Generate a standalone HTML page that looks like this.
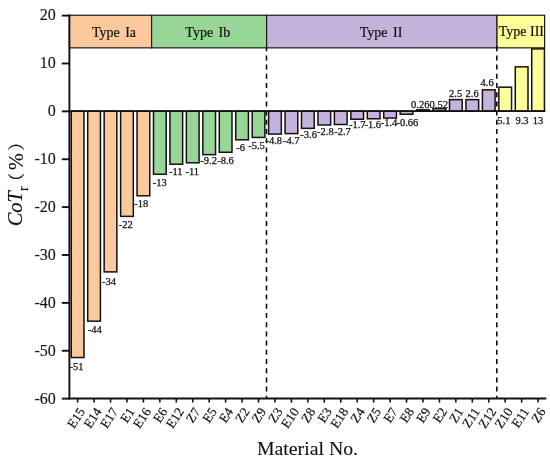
<!DOCTYPE html><html><head><meta charset="utf-8"><title>CoTr chart</title>
<style>html,body{margin:0;padding:0;background:#fff}svg{display:block}text{font-family:"Liberation Serif","Noto Serif CJK SC",serif;fill:#111;stroke:#111;stroke-width:0.12px}.xl{stroke-width:0.18px}.hd{stroke-width:0.2px}.dl{stroke-width:0.25px}</style></head><body>
<svg width="550" height="460" viewBox="0 0 550 460">
<rect width="550" height="460" fill="#fff"/>
<rect x="69.40" y="15.25" width="82.20" height="32.60" fill="#FBC99B" stroke="#1a1a1a" stroke-width="1.2"/>
<rect x="151.60" y="15.25" width="115.00" height="32.60" fill="#98D698" stroke="#1a1a1a" stroke-width="1.2"/>
<rect x="266.60" y="15.25" width="230.40" height="32.60" fill="#C4B3DA" stroke="#1a1a1a" stroke-width="1.2"/>
<rect x="497.00" y="15.25" width="47.60" height="32.60" fill="#FFFF99" stroke="#1a1a1a" stroke-width="1.2"/>
<rect x="71.27" y="111.10" width="12.7" height="246.43" fill="#FBC99B" stroke="#111" stroke-width="1.5"/>
<rect x="87.72" y="111.10" width="12.7" height="210.06" fill="#FBC99B" stroke="#111" stroke-width="1.5"/>
<rect x="104.16" y="111.10" width="12.7" height="160.78" fill="#FBC99B" stroke="#111" stroke-width="1.5"/>
<rect x="120.61" y="111.10" width="12.7" height="105.27" fill="#FBC99B" stroke="#111" stroke-width="1.5"/>
<rect x="137.05" y="111.10" width="12.7" height="84.69" fill="#FBC99B" stroke="#111" stroke-width="1.5"/>
<rect x="153.50" y="111.10" width="12.7" height="63.16" fill="#98D698" stroke="#111" stroke-width="1.5"/>
<rect x="169.94" y="111.10" width="12.7" height="53.11" fill="#98D698" stroke="#111" stroke-width="1.5"/>
<rect x="186.39" y="111.10" width="12.7" height="51.68" fill="#98D698" stroke="#111" stroke-width="1.5"/>
<rect x="202.83" y="111.10" width="12.7" height="43.54" fill="#98D698" stroke="#111" stroke-width="1.5"/>
<rect x="219.28" y="111.10" width="12.7" height="41.15" fill="#98D698" stroke="#111" stroke-width="1.5"/>
<rect x="235.72" y="111.10" width="12.7" height="28.71" fill="#98D698" stroke="#111" stroke-width="1.5"/>
<rect x="252.17" y="111.10" width="12.7" height="26.32" fill="#98D698" stroke="#111" stroke-width="1.5"/>
<rect x="268.61" y="111.10" width="12.7" height="22.97" fill="#C4B3DA" stroke="#111" stroke-width="1.5"/>
<rect x="285.06" y="111.10" width="12.7" height="22.49" fill="#C4B3DA" stroke="#111" stroke-width="1.5"/>
<rect x="301.50" y="111.10" width="12.7" height="17.23" fill="#C4B3DA" stroke="#111" stroke-width="1.5"/>
<rect x="317.95" y="111.10" width="12.7" height="13.88" fill="#C4B3DA" stroke="#111" stroke-width="1.5"/>
<rect x="334.39" y="111.10" width="12.7" height="13.40" fill="#C4B3DA" stroke="#111" stroke-width="1.5"/>
<rect x="350.84" y="111.10" width="12.7" height="8.13" fill="#C4B3DA" stroke="#111" stroke-width="1.5"/>
<rect x="367.28" y="111.10" width="12.7" height="7.66" fill="#C4B3DA" stroke="#111" stroke-width="1.5"/>
<rect x="383.73" y="111.10" width="12.7" height="6.94" fill="#C4B3DA" stroke="#111" stroke-width="1.5"/>
<rect x="400.17" y="111.10" width="12.7" height="3.16" fill="#C4B3DA" stroke="#111" stroke-width="1.5"/>
<rect x="416.62" y="109.86" width="12.7" height="1.24" fill="#C4B3DA" stroke="#111" stroke-width="1.5"/>
<rect x="433.06" y="108.61" width="12.7" height="2.49" fill="#C4B3DA" stroke="#111" stroke-width="1.5"/>
<rect x="449.51" y="99.62" width="12.7" height="11.48" fill="#C4B3DA" stroke="#111" stroke-width="1.5"/>
<rect x="465.95" y="99.62" width="12.7" height="11.48" fill="#C4B3DA" stroke="#111" stroke-width="1.5"/>
<rect x="482.40" y="89.81" width="12.7" height="21.29" fill="#C4B3DA" stroke="#111" stroke-width="1.5"/>
<rect x="498.84" y="87.17" width="12.7" height="23.92" fill="#FFFF99" stroke="#111" stroke-width="1.5"/>
<rect x="515.29" y="66.84" width="12.7" height="44.26" fill="#FFFF99" stroke="#111" stroke-width="1.5"/>
<rect x="531.73" y="48.89" width="12.7" height="62.20" fill="#FFFF99" stroke="#111" stroke-width="1.5"/>
<line x1="266.5" y1="46.2" x2="266.5" y2="398.4" stroke="#000" stroke-width="1.5" stroke-dasharray="5 4.2"/>
<line x1="496.8" y1="46.2" x2="496.8" y2="398.4" stroke="#000" stroke-width="1.5" stroke-dasharray="5 4.2"/>
<line x1="69.4" y1="14.4" x2="69.4" y2="399.4" stroke="#111" stroke-width="1.9"/>
<line x1="68.5" y1="398.55" x2="546.3" y2="398.55" stroke="#111" stroke-width="1.9"/>
<line x1="69.4" y1="111.1" x2="545.3" y2="111.1" stroke="#111" stroke-width="1.8"/>
<line x1="61.8" y1="15.60" x2="69.4" y2="15.60" stroke="#111" stroke-width="1.9"/>
<text x="55.8" y="19.70" font-size="16" text-anchor="end">20</text>
<line x1="61.8" y1="63.48" x2="69.4" y2="63.48" stroke="#111" stroke-width="1.9"/>
<text x="55.8" y="68.38" font-size="16" text-anchor="end">10</text>
<line x1="61.8" y1="111.36" x2="69.4" y2="111.36" stroke="#111" stroke-width="1.9"/>
<text x="55.8" y="116.26" font-size="16" text-anchor="end">0</text>
<line x1="61.8" y1="159.24" x2="69.4" y2="159.24" stroke="#111" stroke-width="1.9"/>
<text x="55.8" y="164.14" font-size="16" text-anchor="end">-10</text>
<line x1="61.8" y1="207.12" x2="69.4" y2="207.12" stroke="#111" stroke-width="1.9"/>
<text x="55.8" y="212.02" font-size="16" text-anchor="end">-20</text>
<line x1="61.8" y1="255.00" x2="69.4" y2="255.00" stroke="#111" stroke-width="1.9"/>
<text x="55.8" y="259.90" font-size="16" text-anchor="end">-30</text>
<line x1="61.8" y1="302.88" x2="69.4" y2="302.88" stroke="#111" stroke-width="1.9"/>
<text x="55.8" y="307.78" font-size="16" text-anchor="end">-40</text>
<line x1="61.8" y1="350.76" x2="69.4" y2="350.76" stroke="#111" stroke-width="1.9"/>
<text x="55.8" y="355.66" font-size="16" text-anchor="end">-50</text>
<line x1="61.8" y1="398.64" x2="69.4" y2="398.64" stroke="#111" stroke-width="1.9"/>
<text x="55.8" y="403.54" font-size="16" text-anchor="end">-60</text>
<line x1="77.62" y1="398.4" x2="77.62" y2="402.6" stroke="#111" stroke-width="1.6"/>
<text transform="translate(85.72,411.3) rotate(-57)" font-size="13.3" text-anchor="end" class="xl">E15</text>
<line x1="94.07" y1="398.4" x2="94.07" y2="402.6" stroke="#111" stroke-width="1.6"/>
<text transform="translate(102.17,411.3) rotate(-57)" font-size="13.3" text-anchor="end" class="xl">E14</text>
<line x1="110.51" y1="398.4" x2="110.51" y2="402.6" stroke="#111" stroke-width="1.6"/>
<text transform="translate(118.61,411.3) rotate(-57)" font-size="13.3" text-anchor="end" class="xl">E17</text>
<line x1="126.96" y1="398.4" x2="126.96" y2="402.6" stroke="#111" stroke-width="1.6"/>
<text transform="translate(135.06,411.3) rotate(-57)" font-size="13.3" text-anchor="end" class="xl">E1</text>
<line x1="143.40" y1="398.4" x2="143.40" y2="402.6" stroke="#111" stroke-width="1.6"/>
<text transform="translate(151.50,411.3) rotate(-57)" font-size="13.3" text-anchor="end" class="xl">E16</text>
<line x1="159.85" y1="398.4" x2="159.85" y2="402.6" stroke="#111" stroke-width="1.6"/>
<text transform="translate(167.95,411.3) rotate(-57)" font-size="13.3" text-anchor="end" class="xl">E6</text>
<line x1="176.29" y1="398.4" x2="176.29" y2="402.6" stroke="#111" stroke-width="1.6"/>
<text transform="translate(184.39,411.3) rotate(-57)" font-size="13.3" text-anchor="end" class="xl">E12</text>
<line x1="192.74" y1="398.4" x2="192.74" y2="402.6" stroke="#111" stroke-width="1.6"/>
<text transform="translate(200.84,411.3) rotate(-57)" font-size="13.3" text-anchor="end" class="xl">Z7</text>
<line x1="209.18" y1="398.4" x2="209.18" y2="402.6" stroke="#111" stroke-width="1.6"/>
<text transform="translate(217.28,411.3) rotate(-57)" font-size="13.3" text-anchor="end" class="xl">E5</text>
<line x1="225.63" y1="398.4" x2="225.63" y2="402.6" stroke="#111" stroke-width="1.6"/>
<text transform="translate(233.73,411.3) rotate(-57)" font-size="13.3" text-anchor="end" class="xl">E4</text>
<line x1="242.07" y1="398.4" x2="242.07" y2="402.6" stroke="#111" stroke-width="1.6"/>
<text transform="translate(250.17,411.3) rotate(-57)" font-size="13.3" text-anchor="end" class="xl">Z2</text>
<line x1="258.52" y1="398.4" x2="258.52" y2="402.6" stroke="#111" stroke-width="1.6"/>
<text transform="translate(266.62,411.3) rotate(-57)" font-size="13.3" text-anchor="end" class="xl">Z9</text>
<line x1="274.96" y1="398.4" x2="274.96" y2="402.6" stroke="#111" stroke-width="1.6"/>
<text transform="translate(283.06,411.3) rotate(-57)" font-size="13.3" text-anchor="end" class="xl">Z3</text>
<line x1="291.41" y1="398.4" x2="291.41" y2="402.6" stroke="#111" stroke-width="1.6"/>
<text transform="translate(299.51,411.3) rotate(-57)" font-size="13.3" text-anchor="end" class="xl">E10</text>
<line x1="307.85" y1="398.4" x2="307.85" y2="402.6" stroke="#111" stroke-width="1.6"/>
<text transform="translate(315.95,411.3) rotate(-57)" font-size="13.3" text-anchor="end" class="xl">Z8</text>
<line x1="324.30" y1="398.4" x2="324.30" y2="402.6" stroke="#111" stroke-width="1.6"/>
<text transform="translate(332.40,411.3) rotate(-57)" font-size="13.3" text-anchor="end" class="xl">E3</text>
<line x1="340.74" y1="398.4" x2="340.74" y2="402.6" stroke="#111" stroke-width="1.6"/>
<text transform="translate(348.84,411.3) rotate(-57)" font-size="13.3" text-anchor="end" class="xl">E18</text>
<line x1="357.19" y1="398.4" x2="357.19" y2="402.6" stroke="#111" stroke-width="1.6"/>
<text transform="translate(365.29,411.3) rotate(-57)" font-size="13.3" text-anchor="end" class="xl">Z4</text>
<line x1="373.63" y1="398.4" x2="373.63" y2="402.6" stroke="#111" stroke-width="1.6"/>
<text transform="translate(381.73,411.3) rotate(-57)" font-size="13.3" text-anchor="end" class="xl">Z5</text>
<line x1="390.08" y1="398.4" x2="390.08" y2="402.6" stroke="#111" stroke-width="1.6"/>
<text transform="translate(398.18,411.3) rotate(-57)" font-size="13.3" text-anchor="end" class="xl">E7</text>
<line x1="406.52" y1="398.4" x2="406.52" y2="402.6" stroke="#111" stroke-width="1.6"/>
<text transform="translate(414.62,411.3) rotate(-57)" font-size="13.3" text-anchor="end" class="xl">E8</text>
<line x1="422.97" y1="398.4" x2="422.97" y2="402.6" stroke="#111" stroke-width="1.6"/>
<text transform="translate(431.07,411.3) rotate(-57)" font-size="13.3" text-anchor="end" class="xl">E9</text>
<line x1="439.41" y1="398.4" x2="439.41" y2="402.6" stroke="#111" stroke-width="1.6"/>
<text transform="translate(447.51,411.3) rotate(-57)" font-size="13.3" text-anchor="end" class="xl">E2</text>
<line x1="455.86" y1="398.4" x2="455.86" y2="402.6" stroke="#111" stroke-width="1.6"/>
<text transform="translate(463.96,411.3) rotate(-57)" font-size="13.3" text-anchor="end" class="xl">Z1</text>
<line x1="472.30" y1="398.4" x2="472.30" y2="402.6" stroke="#111" stroke-width="1.6"/>
<text transform="translate(480.40,411.3) rotate(-57)" font-size="13.3" text-anchor="end" class="xl">Z11</text>
<line x1="488.75" y1="398.4" x2="488.75" y2="402.6" stroke="#111" stroke-width="1.6"/>
<text transform="translate(496.85,411.3) rotate(-57)" font-size="13.3" text-anchor="end" class="xl">Z12</text>
<line x1="505.19" y1="398.4" x2="505.19" y2="402.6" stroke="#111" stroke-width="1.6"/>
<text transform="translate(513.29,411.3) rotate(-57)" font-size="13.3" text-anchor="end" class="xl">Z10</text>
<line x1="521.64" y1="398.4" x2="521.64" y2="402.6" stroke="#111" stroke-width="1.6"/>
<text transform="translate(529.74,411.3) rotate(-57)" font-size="13.3" text-anchor="end" class="xl">E11</text>
<line x1="538.08" y1="398.4" x2="538.08" y2="402.6" stroke="#111" stroke-width="1.6"/>
<text transform="translate(546.18,411.3) rotate(-57)" font-size="13.3" text-anchor="end" class="xl">Z6</text>
<text x="69.40" y="369.6" font-size="10.5" class="dl">-51</text>
<text x="87.80" y="333.4" font-size="10.5" class="dl">-44</text>
<text x="101.90" y="284.5" font-size="10.5" class="dl">-34</text>
<text x="118.80" y="227.9" font-size="10.5" class="dl">-22</text>
<text x="134.30" y="207.3" font-size="10.5" class="dl">-18</text>
<text x="152.70" y="185.8" font-size="10.5" class="dl">-13</text>
<text x="168.90" y="174.9" font-size="10.5" class="dl">-11</text>
<text x="185.50" y="174.9" font-size="10.5" class="dl">-11</text>
<text x="200.30" y="164.2" font-size="10.5" class="dl">-9.2</text>
<text x="217.20" y="164.2" font-size="10.5" class="dl">-8.6</text>
<text x="236.30" y="150.5" font-size="10.5" class="dl">-6</text>
<text x="248.20" y="149.1" font-size="10.5" class="dl">-5.5</text>
<text x="265.50" y="143.8" font-size="10.5" class="dl">-4.8</text>
<text x="282.90" y="143.8" font-size="10.5" class="dl">-4.7</text>
<text x="300.30" y="138.4" font-size="10.5" class="dl">-3.6</text>
<text x="317.10" y="135" font-size="10.5" class="dl">-2.8</text>
<text x="334.20" y="135" font-size="10.5" class="dl">-2.7</text>
<text x="348.90" y="127.9" font-size="10.5" class="dl">-1.7</text>
<text x="364.50" y="127.9" font-size="10.5" class="dl">-1.6</text>
<text x="380.70" y="126.2" font-size="10.5" class="dl">-1.4</text>
<text x="396.50" y="126.2" font-size="10.5" class="dl">-0.66</text>
<text x="411.00" y="107.8" font-size="10.5" class="dl">0.26</text>
<text x="429.60" y="107.8" font-size="10.5" class="dl">0.52</text>
<text x="449.00" y="96.5" font-size="10.5" class="dl">2.5</text>
<text x="465.50" y="96.5" font-size="10.5" class="dl">2.6</text>
<text x="480.50" y="86.4" font-size="10.5" class="dl">4.6</text>
<text x="497.30" y="123.7" font-size="10.5" class="dl">5.1</text>
<text x="515.40" y="123.7" font-size="10.5" class="dl">9.3</text>
<text x="532.80" y="123.7" font-size="10.5" class="dl">13</text>
<text x="114" y="36.8" font-size="14" class="hd" text-anchor="middle" word-spacing="2">Type Ia</text>
<text x="207.8" y="36.6" font-size="14" class="hd" text-anchor="middle" word-spacing="2">Type Ib</text>
<text x="381" y="36.5" font-size="14" class="hd" text-anchor="middle" word-spacing="2">Type II</text>
<text x="521.4" y="36.1" font-size="14" class="hd" text-anchor="middle" word-spacing="0">Type III</text>
<text x="307.5" y="455.4" font-size="19.8" text-anchor="middle">Material No.</text>
<text transform="translate(22.4,226.3) rotate(-90)" font-size="20.5"><tspan font-style="italic">CoT</tspan><tspan font-size="14" dy="5.4">r</tspan></text>
<text transform="translate(22.7,189.9) rotate(-90)" font-size="17">（</text>
<text transform="translate(22.8,170.3) rotate(-90)" font-size="20.5">%</text>
<text transform="translate(22.7,150.7) rotate(-90)" font-size="17">）</text>
</svg></body></html>
